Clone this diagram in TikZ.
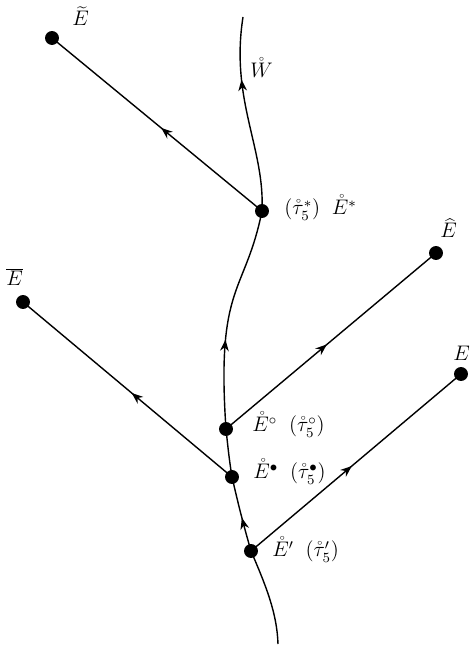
\documentclass[tikz,border=0pt]{standalone}
\usetikzlibrary{positioning,arrows.meta,decorations.markings}

\begin{document}
\begin{tikzpicture}
% Style
[
    x=.02cm, y=.02cm, line width=.8pt,
    dot/.style={draw, fill, shape=circle, inner sep=0pt, minimum size=.25cm},
    midarrow/.style={
        postaction={decorate},
        decoration={markings, mark=at position #1 with {\arrow{Stealth[length=6.5pt, width=5pt]}}}
    },
    tag/.style={anchor=base west, inner sep=1pt, font=\large}
]

\useasboundingbox (0,0) rectangle (474,648);

%=================================== Start ===================================
{
    % points on the main curve
    \coordinate (bot) at (278,4);
    \coordinate (top) at (243,631);
    \node[dot] (Ep)   at (251,97)  {};
    \node[dot] (Ebul) at (232,171) {};
    \node[dot] (Eo)   at (226,219) {};
    \node[dot] (Es)   at (262,437) {};

    % end points of the branches
    \node[dot] (Eti) at (52,610)  {};
    \node[dot] (Eha) at (436,395) {};
    \node[dot] (Eba) at (23,346)  {};
    \node[dot] (Ee)  at (461,274) {};

    % main curve
    \draw (bot) .. controls (277,35) and (266,62) .. (Ep.center);
    \draw[midarrow=.45] (Ep.center) to[out=106, in=-77] (Ebul.center);
    \draw (Ebul.center) to[out=99, in=-84] (Eo.center);
    \draw[midarrow=.4] (Eo.center) .. controls (216,365) and (245,353) .. (Es.center);
    \draw[midarrow=.68] (Es.center) .. controls (265,500) and (230,548) .. (top);

    % branches
    \foreach \a/\b in {Es/Eti, Ebul/Eba, Eo/Eha, Ep/Ee} {
        \draw[midarrow=.48] (\a.center) -- (\b.center);
    }

    % labels
    \node[tag] (lW)    at (248,570) {$\mathring{W}$};
    \node[tag] (lEs)   at (282,433) {$(\mathring{\tau}_5^*)\;\;\mathring{E}^*$};
    \node[tag] (lEo)   at (250,216) {$\mathring{E}^\circ\;\;(\mathring{\tau}_5^\circ)$};
    \node[tag] (lEbul) at (251,169) {$\mathring{E}^\bullet\;\;(\mathring{\tau}_5^\bullet)$};
    \node[tag] (lEp)   at (270,91)  {$\mathring{E}'\;\;(\mathring{\tau}_5')$};
    \node[tag] (lEti)  at (70,622)  {$\widetilde{E}$};
    \node[tag] (lEha)  at (438,410) {$\widehat{E}$};
    \node[tag] (lEba)  at (4,362)   {$\overline{E}$};
    \node[tag] (lEe)   at (451,287) {$E$};
}
%==================================== END ====================================

\end{tikzpicture}
\end{document}
